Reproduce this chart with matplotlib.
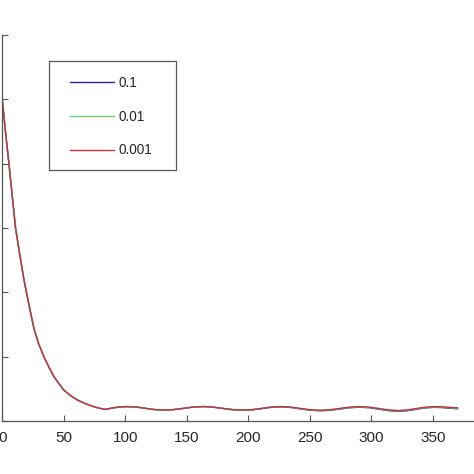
import matplotlib
matplotlib.use('Agg')
import matplotlib.pyplot as plt
from matplotlib.patches import Rectangle

plt.rcParams['font.family'] = ['Liberation Sans', 'DejaVu Sans']

# x positions
x = [0, 2.5, 5.3, 8, 10.7, 14, 17.5, 21, 25.6, 29.5, 33.7, 38, 41.9, 46, 50,
     55, 60.9, 67.5, 74.4, 79, 83.9, 88, 92, 96, 101, 108.5, 116, 123.5, 131,
     139, 147, 155, 163.5, 171, 179, 187, 195, 203, 210.5, 218, 226, 234,
     242, 250, 258.5, 266.5, 274, 282, 290, 298, 306, 314, 322, 329, 336,
     343, 350, 356, 363, 370]

y_001 = [4.98, 4.5, 4.0, 3.5, 3.0, 2.6, 2.2, 1.86, 1.44, 1.2, 1.0, 0.83, 0.69,
         0.58, 0.48, 0.4, 0.327, 0.27, 0.222, 0.198, 0.18, 0.197, 0.21, 0.218,
         0.224, 0.218, 0.198, 0.178, 0.17, 0.177, 0.196, 0.216, 0.225, 0.217,
         0.197, 0.178, 0.17, 0.177, 0.196, 0.216, 0.225, 0.217, 0.196, 0.175,
         0.167, 0.175, 0.195, 0.215, 0.225, 0.216, 0.195, 0.172, 0.163, 0.172,
         0.192, 0.213, 0.224, 0.222, 0.213, 0.205]
y_01 = [4.98, 4.5, 4.0, 3.5, 3.0, 2.6, 2.2, 1.86, 1.44, 1.2, 1.0, 0.83, 0.69,
        0.58, 0.48, 0.4, 0.327, 0.27, 0.222, 0.198, 0.18, 0.197, 0.21, 0.218,
        0.224, 0.218, 0.198, 0.178, 0.17, 0.177, 0.196, 0.216, 0.225, 0.217,
        0.197, 0.178, 0.169, 0.176, 0.194, 0.214, 0.223, 0.214, 0.193, 0.172,
        0.164, 0.171, 0.19, 0.21, 0.22, 0.211, 0.19, 0.166, 0.157, 0.166,
        0.186, 0.207, 0.218, 0.216, 0.207, 0.198]
y_1 = [4.98, 4.5, 4.0, 3.5, 3.0, 2.6, 2.2, 1.86, 1.44, 1.2, 1.0, 0.83, 0.69,
       0.58, 0.48, 0.4, 0.327, 0.27, 0.222, 0.198, 0.18, 0.197, 0.21, 0.218,
       0.224, 0.218, 0.198, 0.178, 0.17, 0.177, 0.196, 0.216, 0.224, 0.215,
       0.195, 0.175, 0.167, 0.173, 0.191, 0.211, 0.22, 0.211, 0.189, 0.168,
       0.159, 0.166, 0.185, 0.205, 0.215, 0.206, 0.184, 0.16, 0.15, 0.159,
       0.18, 0.201, 0.212, 0.21, 0.2, 0.19]

labels = ['0.1', '0.01', '0.001']
colors = ['#2a2a8e', '#6ccf6c', '#c8303c']

fig = plt.figure(figsize=(4.74, 4.74), dpi=100)
ax = fig.add_axes([2.4 / 474, 53 / 474, 492 / 474, 386 / 474])

for ys, lab, c in zip([y_1, y_01, y_001], labels, colors):
    ax.plot(x, ys, color=c, lw=1.0, label=lab)

ax.set_xlim(0, 400)
ax.set_ylim(0, 6)
ax.set_xticks(range(0, 351, 50))
ax.set_yticks(range(0, 7))
ax.set_yticklabels([])

for side in ['top', 'right']:
    ax.spines[side].set_visible(False)
for side in ['left', 'bottom']:
    ax.spines[side].set_color('#555555')
    ax.spines[side].set_linewidth(0.9)
ax.tick_params(direction='in', length=4, width=0.8, color='#555555',
               labelsize=11, labelcolor='#262626', pad=7)

# legend entries without frame, box drawn separately (MATLAB style padding)
leg = ax.legend(loc='upper left', bbox_to_anchor=(70 / 474, 1 - 76 / 474),
                bbox_transform=fig.transFigure, borderaxespad=0,
                fontsize=9.8, handlelength=3.2, handletextpad=0.35,
                labelspacing=1.45, borderpad=0, frameon=False)
for t in leg.get_texts():
    t.set_color('#262626')
fig.add_artist(Rectangle((49 / 474, 1 - 170 / 474), 127 / 474, 109 / 474,
                         transform=fig.transFigure, fill=False,
                         edgecolor='#555555', lw=0.9))

fig.savefig('out.png', dpi=100)
